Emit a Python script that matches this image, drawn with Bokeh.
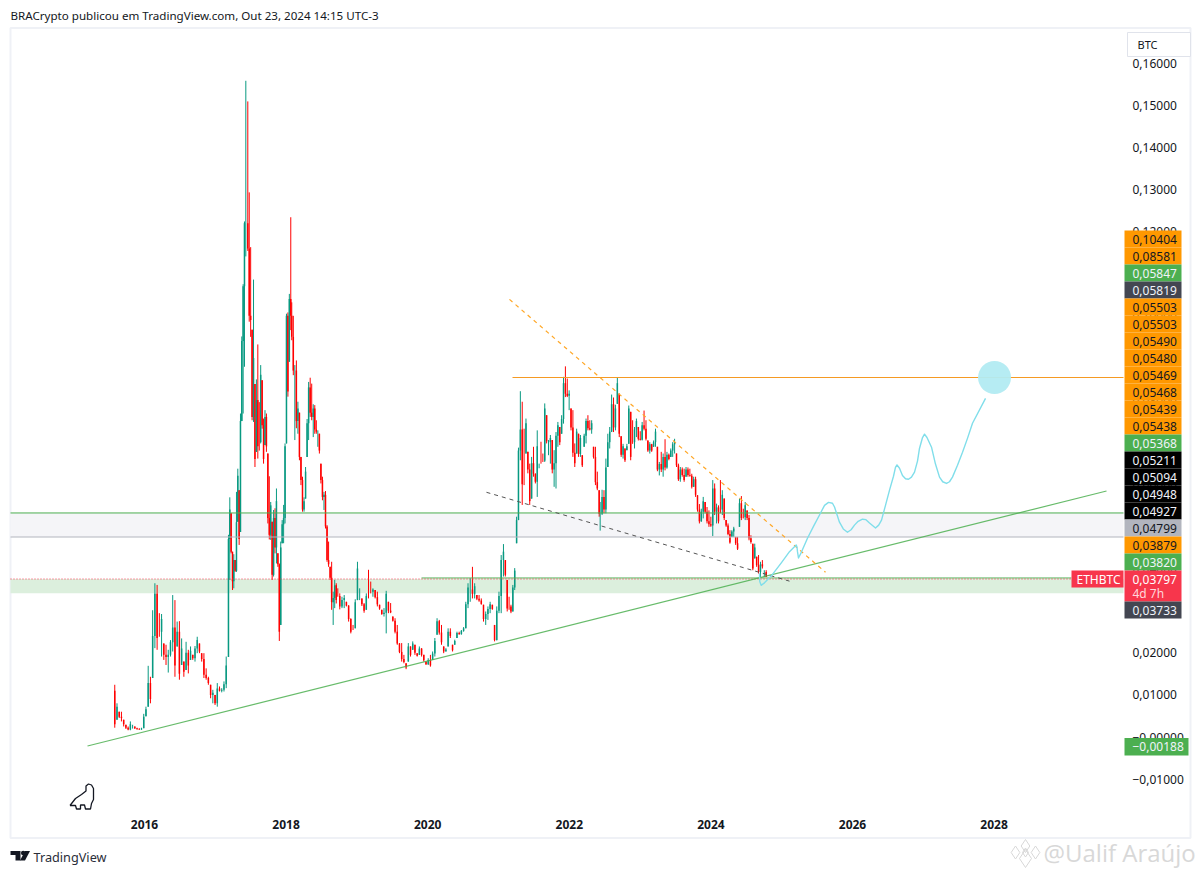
from bokeh.plotting import figure
from bokeh.models import Range1d, LinearAxis, FixedTicker
from bokeh.core.properties import value
from bokeh.embed import file_html
from bokeh.resources import INLINE
import numpy as np

# ---- ETHBTC weekly-style candles, prices in units of 0.0001 BTC ----
span_a = (2015.58, 2017.154)
highs_a = [124,80,60,60,41,29,25,37,29,25, 22,21,22,55,72,169,143,301,365,361,
           294,292,222,219,207,230,337,325,274,275, 234,179,226,207,215,195,216,238,222,199,
           199,163,143,124,112,100,128,120,116,132, 191]
lows_a = [22,41,45,37,25,19,16,16,20,19, 17,17,17,21,49,72,80,140,211,207,
          238,191,183,171,153,191,203,143,215,136, 171,143,159,151,183,183,179,199,199,179,
          140,136,124,92,80,76,72,108,106,108, 116]
closes_a = [30,72,48,45,30,22,18,30,27,21, 19,18,20,48,66,128,90,240,340,235,
            250,280,195,190,195,225,260,170,250,150, 210,155,200,170,205,187,210,230,203,185,
            148,140,128,100,105,80,115,110,112,125, 170]
dirs_a = "rgrrrrrggr" "rrggggrggr" "rgrrgggrgr" "grgrgrggrr" "rrrrgrgrgg" "g"

span_b = (2017.186, 2017.431)
highs_b = [480,569,531,440,434,420,582,637,586,768, 951,1075,1224,1558]
lows_b = [190,373,436,349,353,392,392,511,456,487, 750,768,879,1141]
closes_b = [470,540,440,370,420,395,510,620,470,750, 940,1070,1220,1220]
dirs_b = "ggrrgrggrg" "gggg"

span_c = (2017.459, 2018.066)
highs_c = [1509,1293,1163,967,1086,838,849,932,795,883, 847,756,776,768,673,619,558,511,539,543,
           590,436,412,464,515,551,697,1005,1008,1052, 1234]
lows_c = [1154,986,950,752,748,641,677,661,680,697, 732,649,693,677,507,469,468,373,381,436,
          412,404,228,266,460,460,507,697,808,891, 966]
closes_c = [1160,1000,990,760,900,660,800,690,700,860, 740,660,760,690,520,480,550,385,520,450,
            560,410,250,450,505,520,690,1000,820,1040, 1000]
dirs_c = "rrrrgrgrrg" "rrgrrrgrgr" "grrgggggrg" "r"

span_d = (2018.08, 2018.73)
highs_d = [1032,1000,883,894,796,770,665,618,569,641, 755,843,853,839,790,788,752,728,720,649,
           618,582,584,503,464,404,416,345,373,365, 353]
lows_d = [942,859,705,733,720,657,598,535,535,566, 665,705,760,752,712,720,720,689,673,602,
          562,539,495,416,404,373,302,266,306,317, 333]
closes_d = [950,870,870,750,780,665,610,540,560,630, 745,830,770,760,780,730,725,720,680,610,
            570,575,500,420,410,378,320,330,360,325, 335]
dirs_d = "rrgrgrrrgg" "ggrrgrrgrr" "rgrrrrrggr" "r"

span_e = (2018.758, 2021.038)
highs_e = [341,333,337,321,313,282,266,327,416,353, 329,318,341,397,369,353,349,345,314,302,
           306,347,321,318,286,282,266,223,223,195, 175,223,215,227,219,199,215,211,195,179,
           187,195,203,235,282,278,266,215,211,258, 258,219,231,250,250,254,261,321,365,377,
           404,365,337,337,329,314,298,310,321,314, 266,310,345,432]
lows_e = [303,306,306,310,274,246,254,258,325,325, 311,295,302,329,341,333,329,310,302,290,
          286,246,294,294,274,246,219,199,179,175, 161,179,191,207,195,191,195,191,179,171,
          171,167,183,191,243,243,219,199,203,215, 235,203,219,235,243,243,250,258,306,321,
          329,329,325,321,314,274,266,278,294,302, 227,229,294,294]
closes_e = [310,325,330,312,280,250,256,320,400,345, 315,300,335,335,345,350,332,315,305,292,
            295,340,300,296,276,250,222,202,185,178, 165,215,195,222,200,193,210,195,182,173,
            183,170,198,228,275,248,225,203,208,250, 240,206,228,247,244,252,258,315,355,350,
            340,358,328,324,316,280,292,304,315,304, 230,300,335,420]
dirs_e = "rggrrrrggg" "rrgrrgrrrr" "ggrrrrrrrr" "rgrgrrgrrr" "grgggrrrgg" "rrggrggggg" "rgrrrrgggr" "rggg"

span_f = (2021.07, 2022.422)
highs_f = [458,420,373,333,314,361,401,523,687,821, 796,732,756,677,649,665,689,626,728,649,
           701,673,792,764,705,717,705,681,724,748, 736,764,855,880,851,823,780,776,697,732,
           720,717,669,720,756,764,752,752,689,689, 630,586]
lows_f = [381,381,298,302,294,298,349,460,515,657, 551,598,673,626,551,566,618,602,570,638,
          649,653,653,697,669,649,626,594,590,689, 693,720,744,807,807,776,728,665,641,673,
          665,665,641,689,697,728,728,720,661,598, 586,523]
closes_f = [440,385,305,310,298,355,395,515,680,730, 600,620,745,635,560,650,625,606,690,645,
            655,656,780,702,700,710,635,650,715,740, 700,755,840,815,810,815,735,675,650,725,
            672,710,645,715,750,733,730,745,665,605, 590,530]
dirs_f = "grrrrggggg" "rrgrrgrrgg" "rrgrggrggg" "rggrrgrrrg" "rgrggrrgrr" "rr"

span_g = (2022.436, 2024.781)
highs_g = [558,587,586,661,720,736,813,806,789,853, 815,714,696,685,696,787,772,752,736,756,
           736,726,748,775,752,704,700,696,704,732, 689,653,677,673,707,677,673,685,700,708,
           673,649,641,640,637,641,640,637,625,618, 618,574,553,542,570,558,546,538,523,610,
           602,554,550,610,586,566,515,507,491,491, 499,475,475,566,572,542,558,538,527,479,
           459,459,428,432,416,420,396,396]
lows_g = [490,527,531,531,641,685,724,724,728,791, 712,665,661,653,681,696,657,696,685,712,
          704,704,704,728,704,677,673,677,689,689, 631,621,629,618,633,637,657,665,665,673,
          641,608,606,618,606,618,618,618,590,594, 570,535,507,511,519,531,507,499,499,477,
          527,507,507,531,527,515,499,479,459,475, 475,456,444,499,515,519,515,515,467,459,
          396,424,404,388,380,400,380,380]
closes_g = [530,570,540,640,700,725,790,735,780,840, 720,670,690,657,690,780,665,700,730,750,
            708,706,740,732,708,680,695,680,700,725, 635,648,635,665,640,670,660,680,695,700,
            645,612,635,622,610,635,622,620,594,612, 575,540,512,535,560,535,512,505,502,590,
            535,545,512,540,575,520,502,482,462,488, 495,460,447,555,520,522,550,520,472,463,
            400,450,408,392,410,405,392,380]
dirs_g = "ggrggggrgg" "rrgrggrrgg" "rrgrrrgrgg" "rgrgrgrggg" "rrgrrgrrrg" "rrrggrrrrg" "rgrrgrrrrg" "grrgrrgrrr" "rgrrgrgr"

first_open = 110

# ---- hand-drawn forecast path (year, price in 0.0001 BTC) ----
path_years = [2024.686,2024.69,2024.71,2024.757,2024.87,2024.997,2025.11,2025.205,2025.216,2025.223,
              2025.237,2025.279,2025.364,2025.449,2025.534,2025.605,2025.661,2025.717,2025.746,2025.816,
              2025.87,2025.929,2025.98,2026.028,2026.08,2026.141,2026.19,2026.24,2026.325,2026.37,
              2026.41,2026.466,2026.523,2026.579,2026.607,2026.628,2026.664,2026.706,2026.749,2026.791,
              2026.833,2026.876,2026.918,2026.946,2026.989,2027.017,2027.052,2027.116,2027.172,2027.229,
              2027.274,2027.328,2027.37,2027.412,2027.483,2027.554,2027.624,2027.695,2027.879]
path_vals = [389,369,360,366,386,414,440,456,451,440,
             425,439,472,500,527,550,557,555,546,510,
             494,486,492,503,512,517,516,508,496,503,
             515,550,586,619,640,646,638,621,613,612,
             617,629,655,685,711,719,711,688,648,617,
             606,602,606,617,645,676,709,745,804]

# ---- levels and trend lines, in chart units ----
level_green = 0.05319
level_gray = 0.04748
level_price = 0.03751
level_support = 0.03775
level_target = 0.08535
zone_top = 0.03751
zone_bottom = 0.03414
target_year = 2028.006
trend_green_x = [2015.195, 2029.588]
trend_green_y = [-0.00214, 0.0584]
trend_orange_x = [2021.155, 2025.619]
trend_orange_y = [0.1039, 0.0391]
trend_gray_x = [2020.83, 2025.11]
trend_gray_y = [0.0581, 0.0370]

# ---- axes ----
year_ticks = [2016, 2018, 2020, 2022, 2024, 2026, 2028]
price_ticks = [-0.01, 0, 0.01, 0.02, 0.03, 0.04, 0.05, 0.06, 0.07, 0.08, 0.09, 0.1, 0.11, 0.12, 0.13, 0.14, 0.15, 0.16]
price_labels = ["\u22120,01000", "\u22120,00000", "0,01000", "0,02000", "0,03000", "0,04000", "0,05000", "0,06000",
                "0,07000", "0,08000", "0,09000", "0,10000", "0,11000", "0,12000", "0,13000", "0,14000", "0,15000", "0,16000"]

# ---- price tags on the right scale ----
tag_labels = ["0,10404","0,08581","0,05847","0,05819","0,05503","0,05503","0,05490","0,05480","0,05469","0,05468",
              "0,05439","0,05438","0,05368","0,05211","0,05094","0,04948","0,04927","0,04799","0,03879","0,03820"]
tag_kinds = ["o","o","g","d","o","o","o","o","o","o","o","o","g","k","k","k","k","s","o","g"]

FONT = "Noto Sans"
INK = "#131722"
W, H = 1203, 873

def X(px):
    return 2016 + (px - 145) / 70.8

def Y(py):
    return (737.5 - py) / 4212

p = figure(width=W, height=H, x_range=Range1d(X(1), X(W + 1)), y_range=Range1d(Y(H + 1), Y(1)),
           x_axis_type=None, y_axis_type=None, toolbar_location=None, output_backend="svg",
           min_border=0, outline_line_color=None, background_fill_color="white")

# assemble candles
years, highs, lows, closes, dirs = [], [], [], [], []
for span, h, l, c, d in [(span_a, highs_a, lows_a, closes_a, dirs_a),
                         (span_b, highs_b, lows_b, closes_b, dirs_b),
                         (span_c, highs_c, lows_c, closes_c, dirs_c),
                         (span_d, highs_d, lows_d, closes_d, dirs_d),
                         (span_e, highs_e, lows_e, closes_e, dirs_e),
                         (span_f, highs_f, lows_f, closes_f, dirs_f),
                         (span_g, highs_g, lows_g, closes_g, dirs_g)]:
    n = min(len(h), len(l), len(c), len(d))
    years += list(np.linspace(span[0], span[1], n))
    highs += h[:n]; lows += l[:n]; closes += c[:n]; dirs += list(d[:n])

opens = []
prev = first_open
for hi, lo, cl, di in zip(highs, lows, closes, dirs):
    if di == "g":
        opens.append(min(max(prev, lo), cl))
    else:
        opens.append(max(min(prev, hi), cl))
    prev = cl

years = np.array(years)
h4, l4, c4, o4 = [np.array(a) / 1e4 for a in (highs, lows, closes, opens)]
up = np.array(dirs) == "g"
GREEN, RED = "#089981", "#ff0000"
colors = [GREEN if u else RED for u in up]

# pane frame
p.quad(left=[X(11)], right=[X(1191)], bottom=[Y(838.5)], top=[Y(28.5)], fill_color=None,
       line_color="#eff1f6", line_width=2)

# zones
p.quad(left=[X(11)], right=[X(1124)], bottom=[level_gray], top=[level_green], fill_color="#f5f5f8", line_color=None)
p.quad(left=[X(11)], right=[X(1124)], bottom=[zone_bottom], top=[zone_top], fill_color="#dcefdd", line_color=None)

# candles
p.segment(x0=years, x1=years, y0=l4, y1=h4, line_color=colors, line_width=1)
p.vbar(x=years, width=1.5 / 70.8, bottom=np.minimum(o4, c4), top=np.maximum(o4, c4),
       fill_color=colors, line_color=None)

# levels
p.line([X(11), X(1124)], [level_green, level_green], line_color="#4caf50", line_width=1)
p.line([X(11), X(1124)], [level_gray, level_gray], line_color="#b2b5be", line_width=1)
p.line([X(422), X(1072)], [level_support, level_support], line_color="#4caf50", line_width=1)
p.line([X(11), X(1072)], [level_price, level_price], line_color="#f7364c", line_width=1, line_dash=[1, 2])
p.line([X(513), X(1124)], [level_target, level_target], line_color="#f59a23", line_width=1)

# trend lines
p.line(trend_green_x, trend_green_y, line_color="#4caf50", line_width=1.2, line_alpha=0.85)
p.line(trend_orange_x, trend_orange_y, line_color="#ffa726", line_width=1.2, line_dash=[4, 4])
p.line(trend_gray_x, trend_gray_y, line_color="#555555", line_width=1, line_dash=[4, 4])

# forecast
p.line(path_years, np.array(path_vals) / 1e4, line_color="#80deea", line_width=1.4, line_join="round")
p.scatter([target_year], [level_target], size=33, marker="circle", fill_color="#b2ebf2",
          fill_alpha=0.95, line_color=None)

# axes (drawn in place, inside the pane)
xaxis = LinearAxis(fixed_location=Y(820), ticker=FixedTicker(ticks=year_ticks))
xaxis.major_label_overrides = {y: str(y) for y in year_ticks}
xaxis.axis_line_color = None
xaxis.major_tick_line_color = None
xaxis.minor_tick_line_color = None
xaxis.major_tick_out = 0
xaxis.major_tick_in = 0
xaxis.major_label_standoff = 0
xaxis.major_label_text_font = FONT
xaxis.major_label_text_font_size = "12px"
xaxis.major_label_text_font_style = "bold"
xaxis.major_label_text_color = INK
p.add_layout(xaxis, "below")

yaxis = LinearAxis(fixed_location=X(1126), ticker=FixedTicker(ticks=price_ticks))
yaxis.major_label_overrides = dict(zip(price_ticks, price_labels))
yaxis.axis_line_color = None
yaxis.major_tick_line_color = None
yaxis.minor_tick_line_color = None
yaxis.major_tick_out = 0
yaxis.major_tick_in = 0
yaxis.major_label_standoff = 7
yaxis.major_label_text_font = FONT
yaxis.major_label_text_font_size = "12px"
yaxis.major_label_text_color = INK
p.add_layout(yaxis, "right")


def put_text(px, py, text, color=INK, size="12px", style="normal", align="left", level="overlay", font=FONT):
    p.text(x=[X(px)], y=[Y(py)], text=[text], text_color=color, text_font=value(font), text_font_size=value(size),
           text_font_style=style, text_align=align, text_baseline="middle", level=level)


def put_box(x0, x1, y0, y1, fill, line=None):
    p.quad(left=[X(x0 + 1)], right=[X(x1 + 1)], top=[Y(y0 + 1)], bottom=[Y(y1 + 1)], fill_color=fill, line_color=line, level="overlay")


# tags (text positions given as rendered pixel + 1 for the canvas offset)
kind_fill = {"o": "#ff9800", "g": "#4caf50", "d": "#434651", "k": "#000000", "s": "#b2b5be"}
kind_text = {"o": "#131722", "g": "#f0f3fa", "d": "#f0f3fa", "k": "#f0f3fa", "s": "#131722"}
ROW = 17.0
for k, (lab, kind) in enumerate(zip(tag_labels, tag_kinds)):
    put_box(1124, 1181, 230 + k * ROW, 230 + (k + 1) * ROW, kind_fill[kind])
    put_text(1133, 231 + (k + 0.5) * ROW, lab, kind_text[kind])

put_box(1124, 1181, 570, 601, "#f7364c")
put_text(1133, 579.5, "0,03797", "#ffffff")
put_text(1133, 593.5, "4d 7h", "#ffd6db")
put_box(1124, 1181, 601, 618, "#434651")
put_text(1133, 610.5, "0,03733", "#f0f3fa")
put_box(1071, 1123, 570, 587, "#f7364c")
put_text(1077, 579.5, "ETHBTC", "#ffffff")
put_box(1124, 1188, 737.5, 755, "#4caf50")
put_text(1133, 747, "\u22120,00188", "#f0f3fa")

# symbol box
put_box(1127, 1190, 32, 56, "#ffffff", "#e0e3eb")
put_text(1138, 45, "BTC", "#131722", "11px")

# header
put_text(11, 16, "BRACrypto publicou em TradingView.com, Out 23, 2024 14:15 UTC-3", "#131722", "11.6px")

# footer logo
put_text(34, 857, "TradingView", "#2a2e39", "12.7px")
logo_t = [(11, 851.5), (21, 851.5), (21, 861), (16, 861), (16, 855.5), (11, 855.5)]
logo_v = [(30.5, 851.5), (25.5, 861), (20.5, 861), (25.5, 851.5)]
p.patch([X(a) for a, _ in logo_t], [Y(b) for _, b in logo_t], fill_color="#131722", line_color=None)
p.patch([X(a) for a, _ in logo_v], [Y(b) for _, b in logo_v], fill_color="#131722", line_color=None)
p.scatter([X(23.7)], [Y(853.5)], size=4.5, marker="circle", fill_color="#131722", line_color=None)

# dinosaur badge
dino = [(70.5, 806), (76, 799), (82, 795), (86.5, 791.5), (86.5, 786.5), (89, 784.5), (92, 785.5), (94, 789),
        (94, 800), (92, 804), (91, 809.5), (86, 809.5), (85, 805.5), (81, 805.5), (81, 809.5), (77, 809.5),
        (76, 806), (70.5, 806)]
p.line([X(a) for a, _ in dino], [Y(b) for _, b in dino], line_color="#131722", line_width=1.3)

# watermark
put_text(1044, 853, "@Ualif Ara\u00fajo", "#d8d8d8", "24px", font="Open Sans")
wm = [(1026, 846.5, 13), (1016, 853, 13), (1036, 853, 13), (1026, 853, 9), (1026, 859, 18)]
for a, b, s in wm:
    p.scatter([X(a)], [Y(b)], size=s, marker="diamond", fill_color=None, line_color="#d8d8d8", line_width=1, level="overlay")

open("out.html", "w").write(file_html(p, INLINE))
